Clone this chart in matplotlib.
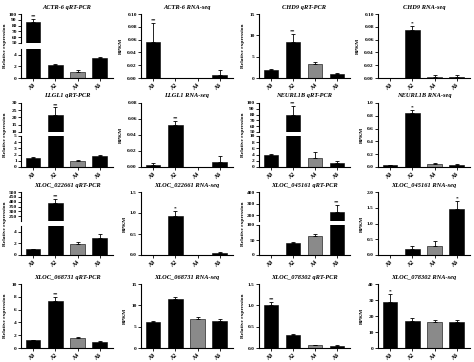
import matplotlib
matplotlib.use("Agg")
import matplotlib.pyplot as plt

plt.rcParams['font.family'] = ['Liberation Serif', 'DejaVu Serif']

categories = ["A0", "A2", "A4", "A6"]
bar_colors = ["black", "black", "#8a8a8a", "black"]

# ---- data ----
actr6_qpcr = [87, 2.3, 1.0, 3.5]
actr6_qpcr_err = [4, 0.15, 0.4, 0.1]
actr6_qpcr_sig = ["**", "", "", ""]

actr6_rna = [0.057, 0.0, 0.0, 0.005]
actr6_rna_err = [0.029, 0, 0, 0.008]
actr6_rna_sig = ["**", "", "", ""]

chd9_qpcr = [1.8, 8.5, 3.3, 1.0]
chd9_qpcr_err = [0.3, 1.8, 0.4, 0.2]
chd9_qpcr_sig = ["", "**", "", ""]

chd9_rna = [0.0, 0.075, 0.002, 0.002]
chd9_rna_err = [0, 0.006, 0.003, 0.003]
chd9_rna_sig = ["", "*", "", ""]

llgl1_qpcr = [1.4, 22, 1.0, 1.8]
llgl1_qpcr_err = [0.2, 5, 0.05, 0.2]
llgl1_qpcr_sig = ["", "**", "", ""]

llgl1_rna = [0.002, 0.052, 0.0, 0.006]
llgl1_rna_err = [0.003, 0.006, 0, 0.008]
llgl1_rna_sig = ["", "**", "", ""]

neurl1b_qpcr = [3.8, 80, 3.0, 1.3]
neurl1b_qpcr_err = [0.3, 15, 1.7, 0.5]
neurl1b_qpcr_sig = ["", "**", "", ""]

neurl1b_rna = [0.025, 0.84, 0.04, 0.03]
neurl1b_rna_err = [0.01, 0.05, 0.03, 0.015]
neurl1b_rna_sig = ["", "*", "", ""]

x022661_qpcr = [1.0, 385, 1.9, 2.9]
x022661_qpcr_err = [0.1, 45, 0.3, 0.7]
x022661_qpcr_sig = ["", "**", "", ""]

x022661_rna = [0.0, 0.92, 0.0, 0.04]
x022661_rna_err = [0, 0.12, 0, 0.04]
x022661_rna_sig = ["", "*", "", ""]

x045161_qpcr = [1.0, 40, 65, 230]
x045161_qpcr_err = [0.3, 5, 4, 60]
x045161_qpcr_sig = ["", "", "", "**"]

x045161_rna = [0.0, 0.2, 0.27, 1.45]
x045161_rna_err = [0, 0.07, 0.18, 0.27]
x045161_rna_sig = ["", "", "", "*"]

x068731_qpcr = [1.2, 7.3, 1.5, 1.0]
x068731_qpcr_err = [0.1, 0.7, 0.15, 0.1]
x068731_qpcr_sig = ["", "**", "", ""]

x068731_rna = [6.2, 11.5, 6.8, 6.3]
x068731_rna_err = [0.2, 0.5, 0.5, 0.4]
x068731_rna_sig = ["", "", "", ""]

x078302_qpcr = [1.0, 0.3, 0.07, 0.05]
x078302_qpcr_err = [0.08, 0.03, 0.01, 0.01]
x078302_qpcr_sig = ["**", "", "", ""]

x078302_rna = [29, 17, 16, 16]
x078302_rna_err = [5, 1.5, 1.5, 1.5]
x078302_rna_sig = ["*", "", "", ""]

W, H = 474, 362
fig = plt.figure(figsize=(W / 100, H / 100), dpi=100)
fig.patch.set_facecolor("white")

col_x = [(21, 113), (141, 233), (259, 350), (378, 470)]
row_y = [(14, 78), (103, 167), (192, 255), (284, 348)]
FS = 3.9


def px_axes(x0, x1, y0, y1):
    return fig.add_axes([x0 / W, 1 - y1 / H, (x1 - x0) / W, (y1 - y0) / H])


def style(ax, bottom=True):
    for s in ("top", "right"):
        ax.spines[s].set_visible(False)
    for s in ("left", "bottom"):
        ax.spines[s].set_linewidth(0.8)
    ax.tick_params(labelsize=FS, width=0.6, length=2, pad=1)
    if not bottom:
        ax.spines["bottom"].set_visible(False)
        ax.tick_params(axis="x", bottom=False, labelbottom=False)
    else:
        ax.set_xticks(range(4))
        ax.set_xticklabels(categories, rotation=45, ha="right",
                           rotation_mode="anchor", fontsize=FS + 0.3, fontweight="bold")


def draw(ax, vals, errs):
    x = list(range(4))
    ax.bar(x, vals, width=0.65, color=bar_colors, edgecolor="black", linewidth=0.4)
    xe = [i for i in x if errs[i] > 0]
    ax.errorbar(xe, [vals[i] for i in xe],
                yerr=[[0] * len(xe), [errs[i] for i in xe]],
                fmt="none", ecolor="black", elinewidth=0.6, capsize=1.6, capthick=0.6)
    ax.set_xlim(-0.55, 3.6)


def sig_text(ax, vals, errs, sigs):
    lo, hi = ax.get_ylim()
    for i, s in enumerate(sigs):
        top = vals[i] + errs[i]
        if s and lo <= top <= hi * 1.05:
            ax.annotate(s, (i, top), xytext=(0, 0.3), textcoords="offset points",
                        ha="center", va="bottom", fontsize=FS, fontweight="bold")


def fmt_ticks(ax, ticks, dec):
    ax.set_yticks(ticks)
    ax.set_yticklabels([f"{t:.{dec}f}" for t in ticks], fontsize=FS, fontweight="bold")


def title(col, row, text):
    x0, x1 = col_x[col]
    y0, _ = row_y[row]
    fig.text((x0 + x1) / 2 / W, 1 - (y0 - 7) / H, text, ha="center", va="center",
             fontsize=4.6, fontstyle="italic", fontweight="bold")


def ylab(col, y0, y1, text, off):
    x0, _ = col_x[col]
    fig.text((x0 - off) / W, 1 - (y0 + y1) / 2 / H, text, rotation=90,
             ha="center", va="center", fontsize=FS, fontweight="bold")


def simple(col, row, ttl, vals, errs, sigs, ylim, ticks, dec, label):
    x0, x1 = col_x[col]
    y0, y1 = row_y[row]
    ax = px_axes(x0, x1, y0, y1)
    draw(ax, vals, errs)
    ax.set_ylim(*ylim)
    fmt_ticks(ax, ticks, dec)
    style(ax)
    sig_text(ax, vals, errs, sigs)
    title(col, row, ttl)
    ylab(col, y0, y1, label, 20 if dec == 2 else 16)


def broken(col, row, ttl, vals, errs, sigs, up_lim, up_ticks, lo_lim, lo_ticks,
           split, gap, label):
    x0, x1 = col_x[col]
    y0, y1 = row_y[row]
    axu = px_axes(x0, x1, y0, split)
    axl = px_axes(x0, x1, split + gap, y1)
    for ax, lim, ticks, bot in ((axu, up_lim, up_ticks, False), (axl, lo_lim, lo_ticks, True)):
        draw(ax, vals, errs)
        ax.set_ylim(*lim)
        fmt_ticks(ax, ticks, 0)
        style(ax, bottom=bot)
    sig_text(axu, vals, errs, sigs)
    title(col, row, ttl)
    ylab(col, y0, y1, label, 16)


RE = "Relative expression"
RP = "RPKM"

broken(0, 0, "ACTR-6 qRT-PCR", actr6_qpcr, actr6_qpcr_err, actr6_qpcr_sig,
       (50, 100), [50, 60, 70, 80, 90, 100], (0, 5), [0, 2, 4], 43, 6, RE)
simple(1, 0, "ACTR-6 RNA-seq", actr6_rna, actr6_rna_err, actr6_rna_sig,
       (0, 0.1), [0, 0.02, 0.04, 0.06, 0.08, 0.10], 2, RP)
simple(2, 0, "CHD9 qRT-PCR", chd9_qpcr, chd9_qpcr_err, chd9_qpcr_sig,
       (0, 15), [0, 5, 10, 15], 0, RE)
simple(3, 0, "CHD9 RNA-seq", chd9_rna, chd9_rna_err, chd9_rna_sig,
       (0, 0.1), [0, 0.02, 0.04, 0.06, 0.08, 0.10], 2, RP)

broken(0, 1, "LLGL1 qRT-PCR", llgl1_qpcr, llgl1_qpcr_err, llgl1_qpcr_sig,
       (10, 30), [10, 15, 20, 25, 30], (0, 5), [0, 1, 2, 3, 4, 5], 132, 4, RE)
simple(1, 1, "LLGL1 RNA-seq", llgl1_rna, llgl1_rna_err, llgl1_rna_sig,
       (0, 0.08), [0, 0.02, 0.04, 0.06, 0.08], 2, RP)
broken(2, 1, "NEURL1B qRT-PCR", neurl1b_qpcr, neurl1b_qpcr_err, neurl1b_qpcr_sig,
       (50, 100), [50, 60, 70, 80, 90, 100], (0, 10), [0, 2, 4, 6, 8, 10], 132, 4, RE)
simple(3, 1, "NEURL1B RNA-seq", neurl1b_rna, neurl1b_rna_err, neurl1b_rna_sig,
       (0, 1.0), [0, 0.2, 0.4, 0.6, 0.8, 1.0], 1, RP)

broken(0, 2, "XLOC_022661 qRT-PCR", x022661_qpcr, x022661_qpcr_err, x022661_qpcr_sig,
       (200, 500), [250, 300, 350, 400, 450, 500], (0, 5), [0, 2, 4], 221, 5, RE)
simple(1, 2, "XLOC_022661 RNA-seq", x022661_rna, x022661_rna_err, x022661_rna_sig,
       (0, 1.5), [0, 0.5, 1.0, 1.5], 1, RP)
broken(2, 2, "XLOC_045161 qRT-PCR", x045161_qpcr, x045161_qpcr_err, x045161_qpcr_sig,
       (150, 400), [200, 300, 400], (0, 100), [0, 50, 100], 221, 4, RE)
simple(3, 2, "XLOC_045161 RNA-seq", x045161_rna, x045161_rna_err, x045161_rna_sig,
       (0, 2.0), [0, 0.5, 1.0, 1.5, 2.0], 1, RP)

simple(0, 3, "XLOC_068731 qRT-PCR", x068731_qpcr, x068731_qpcr_err, x068731_qpcr_sig,
       (0, 10), [0, 2, 4, 6, 8, 10], 0, RE)
simple(1, 3, "XLOC_068731 RNA-seq", x068731_rna, x068731_rna_err, x068731_rna_sig,
       (0, 15), [0, 5, 10, 15], 0, RP)
simple(2, 3, "XLOC_078302 qRT-PCR", x078302_qpcr, x078302_qpcr_err, x078302_qpcr_sig,
       (0, 1.5), [0, 0.5, 1.0, 1.5], 1, RE)
simple(3, 3, "XLOC_078302 RNA-seq", x078302_rna, x078302_rna_err, x078302_rna_sig,
       (0, 40), [0, 10, 20, 30, 40], 0, RP)

fig.savefig("out.png", dpi=100, facecolor="white")
